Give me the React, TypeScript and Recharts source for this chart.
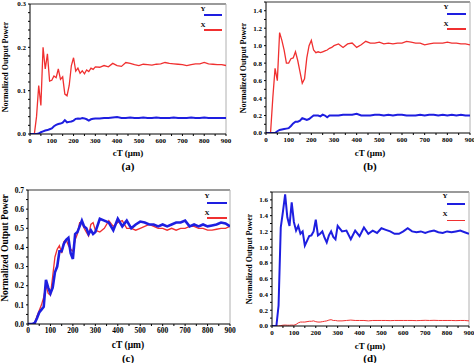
import React from 'react';
import { LineChart, Line, XAxis, YAxis, ReferenceLine } from 'recharts';

// cT (um) sample positions shared by all panels
const CT = [0,10,20,30,40,50,60,70,80,90,100,110,120,130,140,150,160,170,180,190,200,210,220,230,240,250,260,270,280,290,300,
  320,340,360,380,400,420,440,460,480,500,520,540,560,580,600,620,640,660,680,700,720,740,760,780,800,820,840,860,880,900];

// Panel (a)
const A_Y = [0,0,0,0,0.001,0.004,0.006,0.008,0.009,0.011,0.013,0.018,0.021,0.023,0.024,0.026,0.032,0.027,0.028,0.029,0.031,0.035,0.036,0.035,0.037,0.036,0.034,0.031,0.034,0.035,0.036,
  0.036,0.037,0.037,0.038,0.039,0.037,0.037,0.038,0.037,0.037,0.038,0.037,0.037,0.038,0.037,0.037,0.037,0.038,0.037,0.037,0.037,0.038,0.037,0.037,0.038,0.037,0.037,0.037,0.037,0.037];
const A_X = [0,0,0,0.04,0.112,0.066,0.2,0.15,0.185,0.122,0.124,0.134,0.13,0.15,0.126,0.132,0.092,0.088,0.112,0.158,0.176,0.145,0.152,0.14,0.146,0.139,0.148,0.144,0.152,0.149,0.155,
  0.154,0.158,0.155,0.163,0.158,0.156,0.165,0.163,0.16,0.158,0.161,0.16,0.159,0.161,0.162,0.165,0.163,0.162,0.161,0.16,0.158,0.16,0.162,0.162,0.165,0.162,0.161,0.16,0.16,0.158];

// Panel (b)
const B_Y = [0,0,0,0,0,0.02,0.035,0.04,0.045,0.05,0.055,0.08,0.11,0.13,0.13,0.14,0.17,0.16,0.15,0.16,0.18,0.2,0.2,0.2,0.19,0.21,0.2,0.18,0.2,0.2,0.2,
  0.2,0.21,0.21,0.21,0.22,0.2,0.2,0.2,0.21,0.21,0.2,0.21,0.2,0.21,0.21,0.2,0.2,0.2,0.21,0.2,0.21,0.21,0.2,0.21,0.2,0.21,0.2,0.21,0.2,0.2];
const B_X = [0,0,0,0.4,0.74,0.6,1.15,1.06,0.95,0.8,0.8,0.85,0.86,0.93,0.83,0.7,0.57,0.62,0.86,1.0,1.06,0.95,0.92,0.93,0.92,0.93,0.94,0.95,0.97,0.98,1.0,
  1.02,0.98,1.02,1.03,0.98,1.01,1.05,1.03,1.03,1.04,1.02,1.03,1.02,1.03,1.03,1.05,1.04,1.03,1.03,1.01,1.02,1.03,1.03,1.03,1.04,1.03,1.03,1.02,1.02,1.01];

// Panel (c)
const C_Y = [0,0,0,0.005,0.03,0.06,0.075,0.09,0.23,0.19,0.16,0.19,0.27,0.3,0.38,0.38,0.42,0.44,0.45,0.37,0.34,0.47,0.48,0.51,0.54,0.51,0.5,0.47,0.49,0.47,0.48,
  0.55,0.54,0.53,0.49,0.55,0.51,0.54,0.5,0.52,0.535,0.53,0.52,0.52,0.51,0.52,0.51,0.52,0.53,0.53,0.54,0.51,0.52,0.51,0.52,0.51,0.515,0.52,0.53,0.525,0.51];
const C_X = [0,0,0,0.005,0.04,0.07,0.1,0.14,0.2,0.16,0.15,0.25,0.35,0.39,0.41,0.37,0.43,0.44,0.41,0.39,0.38,0.44,0.47,0.53,0.53,0.5,0.48,0.46,0.52,0.53,0.49,
  0.48,0.5,0.54,0.51,0.53,0.54,0.5,0.5,0.49,0.5,0.51,0.52,0.51,0.5,0.5,0.49,0.5,0.49,0.5,0.5,0.51,0.51,0.5,0.5,0.49,0.49,0.495,0.5,0.5,0.51];

// Panel (d)
const D_Y = [0,0,0,0.26,1.25,1.45,1.67,1.38,1.27,1.57,1.32,1.21,1.27,1.17,1.2,1.02,1.08,1.14,1.15,1.2,1.35,1.15,1.17,1.2,1.12,1.06,1.15,1.2,1.13,1.1,1.27,
  1.2,1.21,1.1,1.21,1.14,1.25,1.17,1.21,1.18,1.24,1.22,1.2,1.17,1.17,1.2,1.24,1.2,1.19,1.2,1.18,1.2,1.21,1.19,1.18,1.2,1.19,1.2,1.21,1.19,1.17];
const D_X = [0,0,0,0,0.005,0.01,0.012,0.01,0.01,0.012,0.01,0.02,0.04,0.05,0.05,0.05,0.055,0.06,0.06,0.065,0.055,0.05,0.05,0.055,0.06,0.065,0.075,0.08,0.07,0.07,0.065,
  0.065,0.07,0.075,0.07,0.07,0.07,0.065,0.07,0.07,0.07,0.07,0.068,0.07,0.07,0.07,0.07,0.07,0.068,0.07,0.072,0.07,0.072,0.07,0.07,0.07,0.07,0.068,0.07,0.07,0.065];

const X_TICKS = [0,100,200,300,400,500,600,700,800,900];
const Y_TICKS_A = [0,0.1,0.2,0.3];
const Y_TICKS_B = [0,0.2,0.4,0.6,0.8,1.0,1.2,1.4];
const Y_TICKS_C = [0,0.1,0.2,0.3,0.4,0.5,0.6,0.7];
const Y_TICKS_D = [0,0.2,0.4,0.6,0.8,1.0,1.2,1.4,1.6];
const PANEL_LABELS = ['(a)','(b)','(c)','(d)'];
const SERIES_NAMES = ['Y','X'];

const BLUE = '#1e1ee0';
const RED = '#f03030';
const FONT = '"Liberation Serif", "Times New Roman", serif';

function buildRows(y: number[], x: number[]) {
  return CT.map((ct, i) => ({ ct, Y: y[i], X: x[i] }));
}

type PanelProps = {
  left: number; top: number; w: number; h: number;
  pl: number; pr: number; pt: number; pb: number; // plot box in page coords
  yMax: number; yTicks: number[]; yMinor: number;
  yData: number[]; xData: number[];
  blueW: number; redW: number; tickFont: number;
};

function Panel(p: PanelProps) {
  const rows = buildRows(p.yData, p.xData);
  const xAxisH = 14;
  const minorY: number[] = [];
  const nMinor = Math.round(p.yMax / p.yMinor);
  for (let i = 0; i <= nMinor; i++) minorY.push(+(i * p.yMinor).toFixed(4));
  const minorX: number[] = [];
  for (let i = 0; i <= 900; i += 50) minorX.push(i);
  const isMajorY = (v: number) => p.yTicks.some(t => Math.abs(t - v) < 1e-6);
  return (
    <div style={{ position: 'absolute', left: p.left, top: p.top, width: p.w, height: p.h }}>
      <LineChart
        width={p.w}
        height={p.h}
        data={rows}
        margin={{ top: p.pt - p.top, right: p.left + p.w - p.pr, left: 0, bottom: p.top + p.h - p.pb - xAxisH }}
      >
        <XAxis
          dataKey="ct" type="number" domain={[0, 900]} ticks={minorX} interval={0}
          height={xAxisH} tickSize={2} stroke="#000"
          tickFormatter={(v: number) => (X_TICKS.includes(v) ? String(v) : '')}
          tick={{ fontSize: p.tickFont, fontFamily: FONT, fontWeight: 'bold', fill: '#000' }}
          allowDataOverflow
        />
        <YAxis
          type="number" domain={[0, p.yMax]} ticks={minorY} interval={0}
          width={p.pl - p.left} tickSize={2} stroke="#000"
          tickFormatter={(v: number) => (isMajorY(v) ? v.toFixed(1) : '')}
          tick={{ fontSize: p.tickFont, fontFamily: FONT, fontWeight: 'bold', fill: '#000' }}
          allowDataOverflow
        />
        <ReferenceLine y={p.yMax} stroke="#9a9a9a" strokeWidth={2} />
        <ReferenceLine x={900} stroke="#b0b0b0" strokeWidth={1} />
        <Line dataKey="X" type="linear" stroke={RED} strokeWidth={p.redW} dot={false} isAnimationActive={false} />
        <Line dataKey="Y" type="linear" stroke={BLUE} strokeWidth={p.blueW} dot={false} isAnimationActive={false} />
      </LineChart>
    </div>
  );
}

function Txt(props: { x: number; y: number; size: number; rotate?: boolean; children: React.ReactNode }) {
  return (
    <div
      style={{
        position: 'absolute', left: props.x, top: props.y,
        transform: `translate(-50%, -50%)${props.rotate ? ' rotate(-90deg)' : ''}`,
        whiteSpace: 'nowrap', fontFamily: FONT, fontWeight: 'bold', fontSize: props.size,
        lineHeight: 1, color: '#000',
      }}
    >
      {props.children}
    </div>
  );
}

function LegendItem(props: { tx: number; ty: number; x1: number; x2: number; ly: number; color: string; lw: number; name: string }) {
  return (
    <>
      <Txt x={props.tx} y={props.ty} size={7}>{props.name}</Txt>
      <div style={{ position: 'absolute', left: props.x1, top: props.ly - props.lw / 2, width: props.x2 - props.x1, height: props.lw, background: props.color }} />
    </>
  );
}

export default function App() {
  return (
    <div style={{ position: 'absolute', left: 0, top: 0, width: 474, height: 363, background: '#fff', overflow: 'hidden' }}>
      <Panel left={0} top={0} w={237} h={181} pl={30} pr={226} pt={4} pb={134}
        yMax={0.3} yTicks={Y_TICKS_A} yMinor={0.02} yData={A_Y} xData={A_X} blueW={2} redW={1.3} tickFont={7} />
      <Panel left={237} top={0} w={237} h={181} pl={266} pr={470} pt={2} pb={133}
        yMax={1.5} yTicks={Y_TICKS_B} yMinor={0.1} yData={B_Y} xData={B_X} blueW={2} redW={1.3} tickFont={7} />
      <Panel left={0} top={181} w={237} h={182} pl={28} pr={230} pt={190} pb={324}
        yMax={0.7} yTicks={Y_TICKS_C} yMinor={0.05} yData={C_Y} xData={C_X} blueW={2.6} redW={1.3} tickFont={7.5} />
      <Panel left={237} top={181} w={237} h={182} pl={272} pr={469} pt={192} pb={326}
        yMax={1.7} yTicks={Y_TICKS_D} yMinor={0.1} yData={D_Y} xData={D_X} blueW={2} redW={1} tickFont={7} />

      {/* Y-axis titles */}
      <Txt x={6} y={67} size={8} rotate>Normalized Output Power</Txt>
      <Txt x={244} y={68} size={8} rotate>Normalized Output Power</Txt>
      <Txt x={6} y={248} size={9.5} rotate>Normalized Output Power</Txt>
      <Txt x={250} y={259} size={8} rotate>Normalized Output Power</Txt>

      {/* X-axis titles */}
      <Txt x={128} y={153} size={9}>cT (μm)</Txt>
      <Txt x={370} y={153} size={9}>cT (μm)</Txt>
      <Txt x={128} y={346} size={9.5}>cT (μm)</Txt>
      <Txt x={370} y={346} size={9}>cT (μm)</Txt>

      {/* Panel labels */}
      <Txt x={128} y={166} size={11}>{PANEL_LABELS[0]}</Txt>
      <Txt x={370} y={166} size={11}>{PANEL_LABELS[1]}</Txt>
      <Txt x={128} y={358} size={11}>{PANEL_LABELS[2]}</Txt>
      <Txt x={370} y={358} size={11}>{PANEL_LABELS[3]}</Txt>

      {/* Legends */}
      <LegendItem tx={203} ty={9} x1={204} x2={222} ly={15} color={BLUE} lw={2} name={SERIES_NAMES[0]} />
      <LegendItem tx={203} ty={25} x1={204} x2={222} ly={30} color={RED} lw={1.3} name={SERIES_NAMES[1]} />
      <LegendItem tx={446} ty={7} x1={447} x2={466} ly={14} color={BLUE} lw={2} name={SERIES_NAMES[0]} />
      <LegendItem tx={446} ty={24} x1={447} x2={466} ly={29} color={RED} lw={1.3} name={SERIES_NAMES[1]} />
      <LegendItem tx={207} ty={196} x1={207} x2={227} ly={203} color={BLUE} lw={2.6} name={SERIES_NAMES[0]} />
      <LegendItem tx={207} ty={213} x1={207} x2={227} ly={218} color={RED} lw={1.3} name={SERIES_NAMES[1]} />
      <LegendItem tx={445} ty={196} x1={447} x2={465} ly={204} color={BLUE} lw={2} name={SERIES_NAMES[0]} />
      <LegendItem tx={445} ty={214} x1={447} x2={465} ly={220} color={RED} lw={1} name={SERIES_NAMES[1]} />
    </div>
  );
}
